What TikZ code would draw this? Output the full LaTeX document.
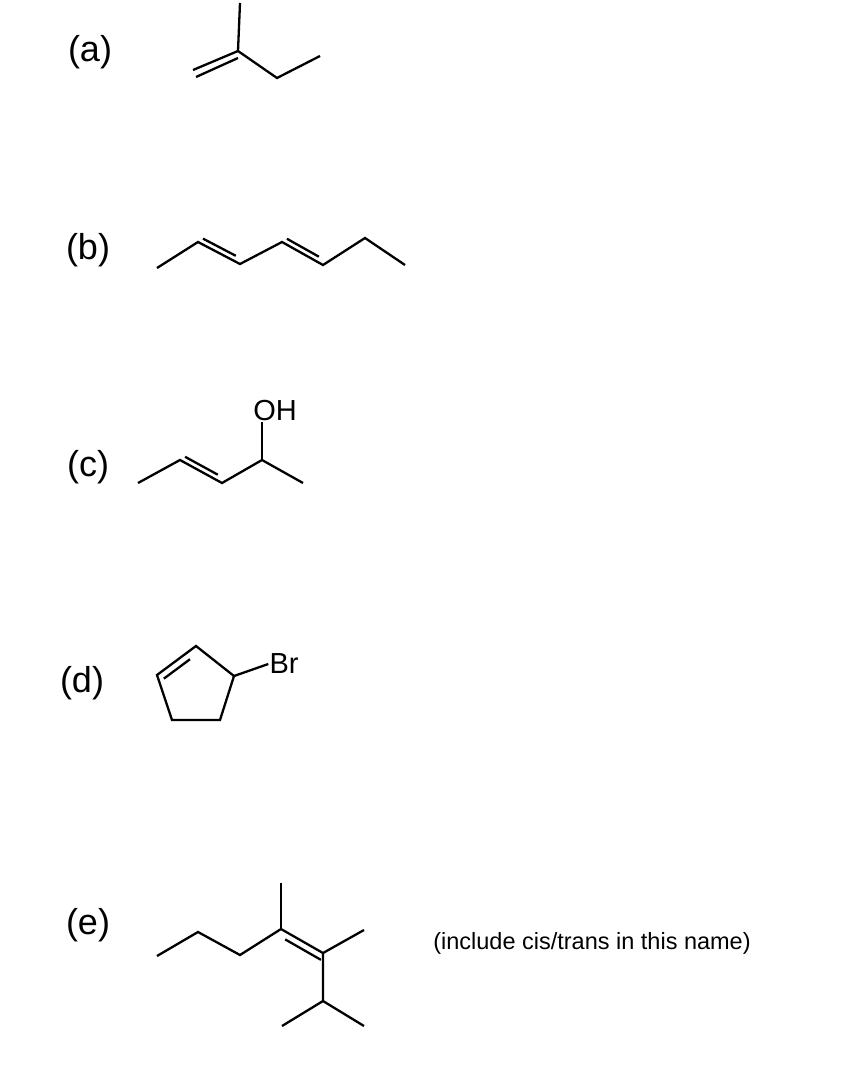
\documentclass[tikz,border=0pt]{standalone}
\usepackage{fontspec}
\setmainfont{Liberation Sans}
\usetikzlibrary{calc}
\begin{document}
\begin{tikzpicture}[x=1pt,y=-1pt,bond/.style={line width=2.3pt,line join=miter},
 lbl/.style={font=\fontsize{36}{36}\selectfont,inner sep=0pt},
 atom/.style={font=\fontsize{29}{29}\selectfont,inner sep=1pt}]
\useasboundingbox (0,0) rectangle (845,1076);
% labels
\node[lbl] (la) at (90,52) {(a)};
\node[lbl] (lb) at (88,250) {(b)};
\node[lbl] (lc) at (88,467) {(c)};
\node[lbl] (ld) at (82,683) {(d)};
\node[lbl] (le) at (88,925) {(e)};
% (a)
\coordinate (a1) at (240,3); \coordinate (a2) at (238,51);
\coordinate (a3) at (193,70); \coordinate (a4) at (277,78); \coordinate (a5) at (320,56);
\draw[bond] (a1)--(a2)--(a4)--(a5);
\draw[bond] (a2)--(a3);
\draw[bond] ($(a2)+(0,7)$)--($(a3)+(3,7)$);
% (b)
\coordinate (b1) at (157,268); \coordinate (b2) at (198,242); \coordinate (b3) at (240,264);
\coordinate (b4) at (282,242); \coordinate (b5) at (323,265); \coordinate (b6) at (365,238);
\coordinate (b7) at (405,265);
\draw[bond] (b1)--(b2)--(b3)--(b4)--(b5)--(b6)--(b7);
\draw[bond] ($(b2)!0.12!(b3)+(0,-6)$)--($(b2)!0.9!(b3)+(0,-6)$);
\draw[bond] ($(b4)!0.12!(b5)+(0,-6)$)--($(b4)!0.9!(b5)+(0,-6)$);
% (c)
\node[atom] (oh) at (275,411) {OH};
\coordinate (c1) at (138,483); \coordinate (c2) at (180,460); \coordinate (c3) at (222,483);
\coordinate (c4) at (262,460); \coordinate (c5) at (303,483);
\draw[bond] (c1)--(c2)--(c3)--(c4)--(c5);
\draw[bond] (c4)--(c4|-oh.south);
\draw[bond] ($(c2)!0.12!(c3)+(0,-6)$)--($(c2)!0.9!(c3)+(0,-6)$);
% (d)
\node[atom] (br) at (284,664) {Br};
\coordinate (d1) at (196,646); \coordinate (d2) at (157,675); \coordinate (d3) at (172,720);
\coordinate (d4) at (220,720); \coordinate (d5) at (234,676);
\draw[bond] (d1)--(d2)--(d3)--(d4)--(d5)--cycle;
\draw[bond] (d5)--(br.west);
\draw[bond] ($(d1)!0.18!(d2)+(1,8)$)--($(d1)!0.85!(d2)+(1,8)$);
% (e)
\coordinate (e1) at (157,956); \coordinate (e2) at (198,932); \coordinate (e3) at (240,955);
\coordinate (e4) at (281,929); \coordinate (e5) at (323,953); \coordinate (e6) at (364,930);
\coordinate (e7) at (281,883); \coordinate (e8) at (323,1001);
\coordinate (e9) at (282,1026); \coordinate (e10) at (364,1026);
\draw[bond] (e1)--(e2)--(e3)--(e4)--(e5)--(e6);
\draw[bond] (e4)--(e7); \draw[bond] (e5)--(e8)--(e9); \draw[bond] (e8)--(e10);
\draw[bond] ($(e4)!0.1!(e5)+(0,8)$)--($(e4)!0.95!(e5)+(0,8)$);
\node[font=\fontsize{23.5}{24}\selectfont,inner sep=0pt] (note) at (592,943) {(include cis/trans in this name)};
\end{tikzpicture}
\end{document}
